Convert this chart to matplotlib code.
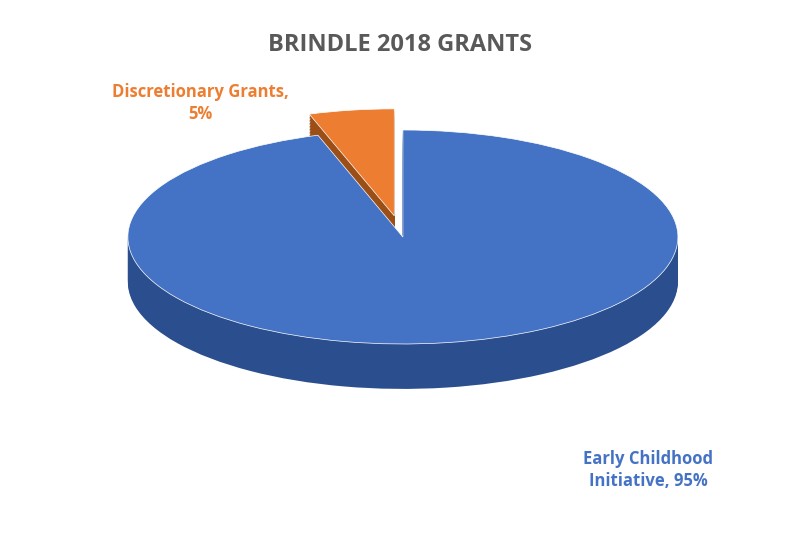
import matplotlib
matplotlib.use("Agg")
import matplotlib.pyplot as plt

categories = ["Discretionary Grants", "Early Childhood Initiative"]
values = [5, 95]
top_colors = ["#ed7d31", "#4472c4"]
side_colors = ["#9c4e17", "#2b4f8e"]
explode = [0.2, 0.0]

fig = plt.figure(figsize=(8, 5.34), dpi=100)
ax = fig.add_axes([0, 0, 1, 1])
cx, cy = 0.0, 0.0
depth = 0.42
n = 30
for i in range(n, 0, -1):
    off = -depth * i / n
    ax.pie(values, colors=side_colors, startangle=90, counterclock=True,
           explode=explode, center=(cx, cy + off), radius=1.0,
           wedgeprops=dict(linewidth=0))
ax.pie(values, colors=top_colors, startangle=90, counterclock=True,
       explode=explode, center=(cx, cy), radius=1.0,
       wedgeprops=dict(linewidth=0.5, edgecolor="white"))
ax.set_aspect("auto")
ax.set_xlim(-1.465, 1.444)
ax.set_ylim(-2.776, 2.215)
ax.axis("off")

fig.text(0.5, 1 - 45 / 534, "BRINDLE 2018 GRANTS", ha="center", va="center",
         fontsize=17, fontweight="bold", color="#595959", family="Open Sans")
fig.text(200 / 800, 1 - 103 / 534, f"{categories[0]},\n{values[0]}%", ha="center",
         va="center", fontsize=12, fontweight="bold", color="#ed7d31",
         family="Open Sans", linespacing=1.3)
fig.text(648 / 800, 1 - 470 / 534, "Early Childhood\nInitiative, 95%", ha="center",
         va="center", fontsize=12, fontweight="bold", color="#4472c4",
         family="Open Sans", linespacing=1.3)
fig.savefig("out.png", dpi=100, facecolor="white")
